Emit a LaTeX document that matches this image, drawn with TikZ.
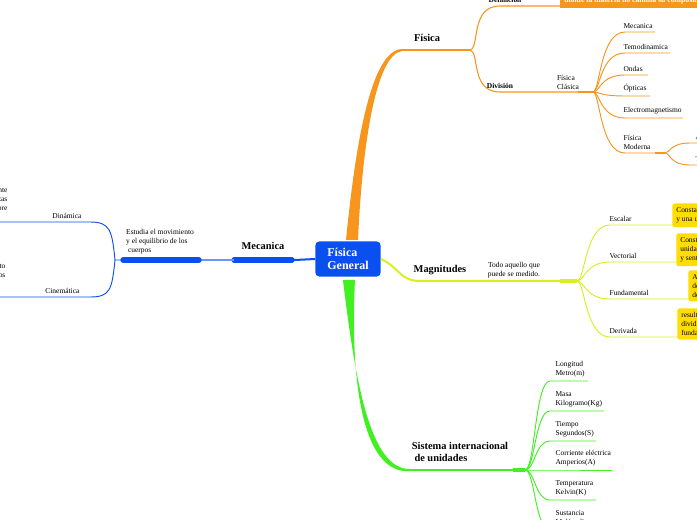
\documentclass[tikz,border=0pt]{standalone}
\usepackage{fontspec}
\setmainfont{Liberation Serif}
\begin{document}
\begin{tikzpicture}[x=0.75pt,y=-0.75pt,
  small/.style={font=\fontsize{5.6}{6.8}\selectfont,align=left,inner sep=1pt}]
\useasboundingbox (0,0) rectangle (697,520);
\clip (0,0) rectangle (697,520);
\definecolor{cblue}{HTML}{0A4FF0}
\definecolor{corg}{HTML}{F7951D}
\definecolor{cyel}{HTML}{D8F020}
\definecolor{cgrn}{HTML}{40F020}
\definecolor{cbox}{HTML}{FFDD00}
\tikzset{big/.style={font=\fontsize{7.8}{8.6}\selectfont\bfseries,align=left,inner sep=1pt},
  ybox/.style={fill=cbox,rounded corners=2pt,anchor=north west,small,inner sep=3pt}}
% central
\node[fill=cblue,rounded corners=3pt,text=white,font=\fontsize{9}{10}\selectfont\bfseries,align=left,inner xsep=9pt,inner ysep=5pt] (c) at (348,259) {Física\\General};
% ---------- Fisica (orange)
\coordinate (f1) at (400,50);
\coordinate (f2) at (470,50);
\fill[corg] (346,240) .. controls (355,150) and (370,50) .. (402,49) -- (402,51) .. controls (375,55) and (362,150) .. (358,240) -- cycle;
\draw[corg,line width=1.5pt] (f1) -- (f2);
\node[big] (fis) at (427,38) {Física};
\coordinate (dfe) at (560,6);
\draw[corg,line width=0.8pt] (f2) .. controls (480,48) and (470,6) .. (500,6) -- (dfe);
\node[small,font=\fontsize{5.6}{6.8}\selectfont\bfseries] (def) at (505,0) {Definición};
\node[fill=corg,anchor=south west,inner sep=3pt,font=\fontsize{5.8}{7}\selectfont\bfseries,text=white,align=left] (defb) at (560,8) {la física estudia los fenómenos\\donde la materia no cambia su composición.};
\coordinate (dv) at (593,92);
\draw[corg,line width=0.8pt] (f2) .. controls (480,52) and (470,92) .. (500,92) -- (dv);
\draw[corg,line width=2pt] (578,92) -- (dv);
\node[small,font=\fontsize{5.6}{6.8}\selectfont\bfseries] (div) at (500,86) {División};
\node[small] (fc) at (568,82) {Física\\Clásica};
\foreach \t/\y/\e in {Mecanica/32/655,Temodinamica/53/670,Ondas/75/648,Ópticas/96/650,Electromagnetismo/118/683}{
  \draw[corg,line width=0.7pt] (dv) .. controls (600,92) and (600,\y) .. (625,\y) -- (\e,\y);
  \node[small,anchor=south west] at (622,\y-2) {\t};
}
\coordinate (fm) at (665,153);
\draw[corg,line width=0.7pt] (dv) .. controls (600,92) and (600,153) .. (625,153) -- (fm);
\draw[corg,line width=2pt] (655,153) -- (fm);
\node[small,anchor=south west] (fmo) at (622,151) {Física\\Moderna};
\draw[corg,line width=0.7pt] (fm) .. controls (670,153) and (670,143) .. (690,143) -- (700,143);
\draw[corg,line width=0.7pt] (fm) .. controls (670,153) and (670,165) .. (690,165) -- (700,165);
\node[small,anchor=south west] at (694,141) {Ato};
\node[small,anchor=south west] at (694,163) {Teo};
% ---------- Magnitudes (yellow)
\coordinate (m0) at (577,281);
\draw[cyel,line width=1.5pt] (c.east) .. controls (400,268) and (400,281) .. (420,281) -- (m0);
\draw[cyel,line width=2.4pt] (560,281) -- (m0);
\node[big] (mag) at (440,270) {Magnitudes};
\node[small,align=center] (tod) at (514,270) {Todo aquello que\\puede se medido.};
\foreach \t/\y in {Escalar/225,Vectorial/262,Fundamental/299,Derivada/337}{
  \draw[cyel,line width=0.7pt] (m0) .. controls (585,281) and (585,\y) .. (610,\y) -- (700,\y);
  \node[small,anchor=south west] at (608,\y-2) {\t};
}
\node[ybox] (b1) at (672,203) {Consta de un número\\y una unidad};
\node[ybox] (b2) at (676,233) {Consta de número,\\unidad, dirección\\y sentido};
\node[ybox] (b3) at (688,270) {A partir\\de ellas\\derivan};
\node[ybox] (b4) at (677,308) {resultan de\\dividir dos\\fundamentales};
% ---------- Sistema internacional (green)
\coordinate (s0) at (525,470);
\fill[cgrn] (343,280) .. controls (355,380) and (370,470) .. (410,469) -- (410,471) .. controls (362,475) and (350,380) .. (355,280) -- cycle;
\draw[cgrn,line width=1.5pt] (410,470) -- (s0);
\draw[cgrn,line width=2.4pt] (513,470) -- (s0);
\node[big] (si) at (460,452) {Sistema internacional\\ \ de unidades};
\foreach \a/\b/\y/\e in {Longitud/Metro(m)/381/588,Masa/Kilogramo(Kg)/411/604,Tiempo/Segundos(S)/441/596,Corriente eléctrica/Amperios(A)/470/612,Temperatura/Kelvin(K)/500/596,Sustancia/Mol(mol)/530/600}{
  \draw[cgrn,line width=0.7pt] (s0) .. controls (535,470) and (535,\y) .. (550,\y) -- (\e,\y);
  \node[small,anchor=south west] at (554,\y-2) {\a\\\b};
}
% ---------- Mecanica (blue)
\coordinate (k0) at (115,260);
\draw[cblue,line width=1.5pt] (c.west) -- (295,260) -- (232,260);
\draw[cblue,line width=4pt,line cap=round] (234,260) -- (292,260);
\draw[cblue!60,line width=1.5pt] (200,260) -- (234,260);
\draw[cblue,line width=4pt,line cap=round] (123,260) -- (199,260);
\node[big] (mec) at (263,246) {Mecanica};
\node[small] (est) at (160,242) {Estudia el movimiento\\y el equilibrio de los\\ \ cuerpos};
\draw[cblue,line width=0.7pt] (123,260) -- (k0) .. controls (112,230) and (110,222) .. (90,222) -- (-5,222);
\draw[cblue,line width=0.7pt] (k0) .. controls (112,290) and (110,297) .. (90,297) -- (-5,297);
\node[small,anchor=south east] (din) at (83,220) {Dinámica};
\node[small,anchor=south east] (cin) at (81,295) {Cinemática};
\node[small,anchor=east,align=right] at (9,199) {movimiente\\de las fuerzas\\sobre};
\node[small,anchor=east,align=right] at (7,271) {movimiento\\de los cuerpos};
\end{tikzpicture}
\end{document}
